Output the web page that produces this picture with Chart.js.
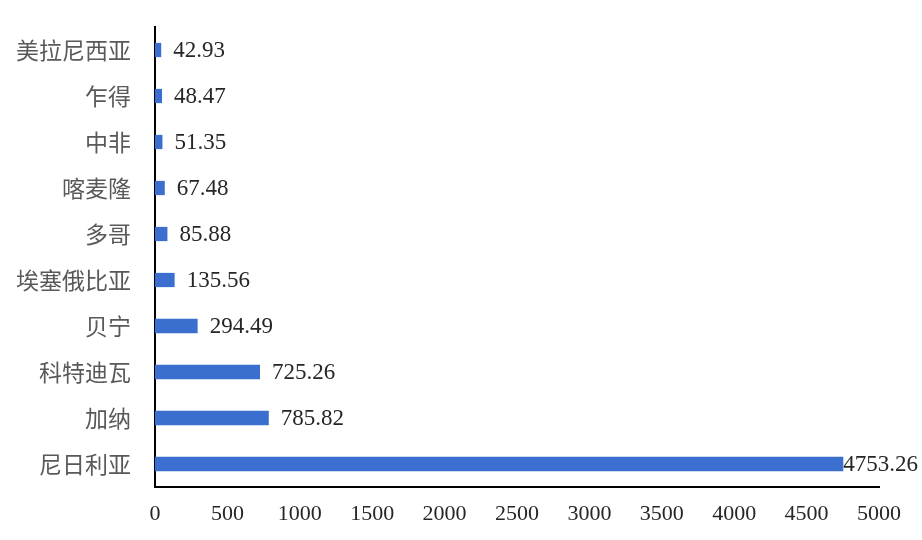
<!DOCTYPE html>
<html><head><meta charset="utf-8">
<script src="https://cdn.jsdelivr.net/npm/chart.js@4/dist/chart.umd.min.js"></script>
<style>html,body{margin:0;padding:0;background:#fff}#wrap{width:922px;height:540px}</style>
</head><body><div id="wrap"><canvas id="c"></canvas></div>
<script>
const categories = ["美拉尼西亚","乍得","中非","喀麦隆","多哥","埃塞俄比亚","贝宁","科特迪瓦","加纳","尼日利亚"];
const values = [42.93,48.47,51.35,67.48,85.88,135.56,294.49,725.26,785.82,4753.26];
const valueLabels = ["42.93","48.47","51.35","67.48","85.88","135.56","294.49","725.26","785.82","4753.26"];
const xMin = 0, xMax = 5000, xStep = 500;

const labelPlugin = {
  id: 'vlabels',
  afterDatasetsDraw(chart) {
    const ctx = chart.ctx;
    const meta = chart.getDatasetMeta(0);
    ctx.save();
    ctx.font = '23px "Liberation Serif", "Times New Roman", serif';
    ctx.fillStyle = '#262626';
    ctx.textBaseline = 'middle';
    ctx.textAlign = 'left';
    meta.data.forEach((bar, i) => {
      const t = valueLabels[i];
      const w = ctx.measureText(t).width;
      let x = bar.x + 12;
      if (x + w > chart.width - 2) x = bar.x;
      ctx.fillText(t, x, bar.y + 1);
    });
    ctx.restore();
  }
};

new Chart(document.getElementById('c'), {
  type: 'bar',
  data: {
    labels: categories,
    datasets: [{
      data: values,
      backgroundColor: '#3a6fd0',
      barPercentage: 0.62,
      categoryPercentage: 0.5
    }]
  },
  options: {
    indexAxis: 'y',
    responsive: true,
    maintainAspectRatio: false,
    animation: false,
    layout: { padding: { top: 27, right: 43, left: 0, bottom: 0 } },
    plugins: { legend: { display: false }, tooltip: { enabled: false } },
    scales: {
      x: {
        min: xMin, max: xMax,
        ticks: { stepSize: xStep, color: '#262626', padding: 14,
          callback: (v) => String(v),
          font: { family: '"Liberation Serif", "Times New Roman", serif', size: 22 } },
        grid: { display: false, drawTicks: false },
        border: { display: true, color: '#000', width: 2 },
        afterFit(s) { s.height = 53; s.paddingLeft = 0; s.paddingRight = 0; }
      },
      y: {
        ticks: { color: '#595959', padding: 24,
          font: { family: '"Noto Sans CJK SC", sans-serif', size: 23 } },
        grid: { display: false, drawTicks: false },
        border: { display: true, color: '#000', width: 2 },
        afterFit(s) { s.width = 155; s.paddingTop = 0; s.paddingBottom = 0; }
      }
    }
  },
  plugins: [labelPlugin]
});
</script></body></html>
